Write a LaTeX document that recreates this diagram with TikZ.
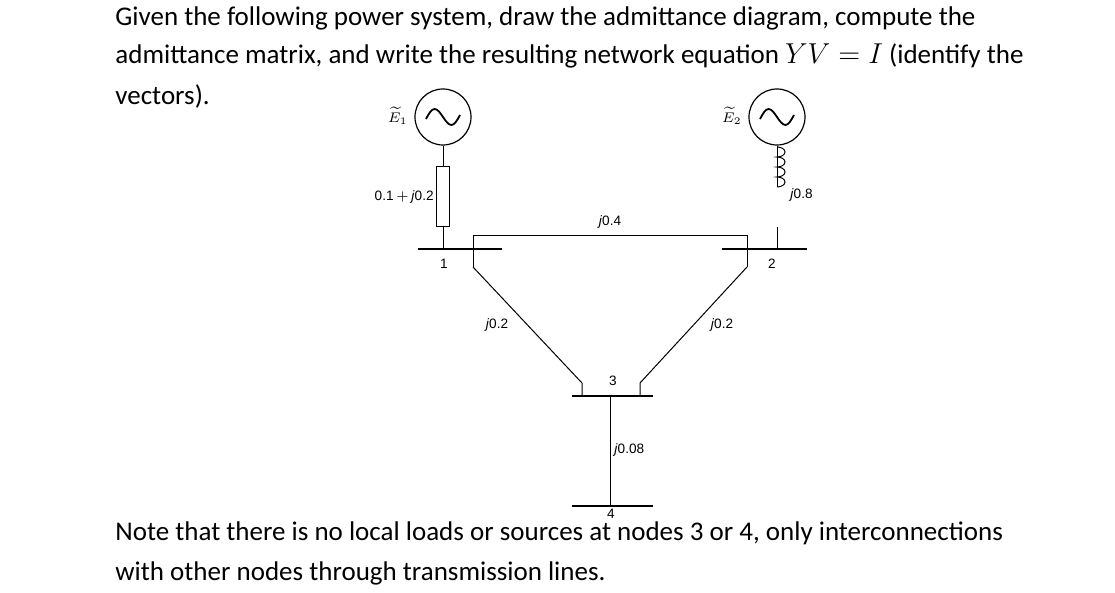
\documentclass[tikz,border=0pt]{standalone}
\usepackage{fontspec}
\setmainfont{Carlito}
\newfontfamily\lab{Liberation Sans}
\usetikzlibrary{calc}
\begin{document}
\begin{tikzpicture}[x=0.5pt,y=-0.5pt,
  txt/.style={anchor=west,inner sep=0,font=\fontsize{13.5}{16}\selectfont},
  lb/.style={inner sep=0,font=\lab\fontsize{6.8}{8}\selectfont},
  bus/.style={line width=0.9pt},
  ln/.style={line width=0.5pt},
  gen/.style={draw,circle,minimum size=28pt,inner sep=0,line width=0.6pt}]
\useasboundingbox (0,0) rectangle (1115,593);
\node[txt] (t1) at (115,18) {Given the following power system, draw the admittance diagram, compute the};
\node[txt] (t2) at (115,56) {admittance matrix, and write the resulting network equation $YV=I$ (identify the};
\node[txt] (t3) at (115,97) {vectors).};
% generators
\node[gen] (g1) at (443,117) {};
\node[gen] (g2) at (777,117) {};
\draw[line width=0.9pt] ($(g1)+(-17,2)$) sin ($(g1)+(-8.5,-8)$) cos ($(g1)+(0,0)$) sin ($(g1)+(8.5,8)$) cos ($(g1)+(17,-2)$);
\draw[line width=0.9pt] ($(g2)+(-17,2)$) sin ($(g2)+(-8.5,-8)$) cos ($(g2)+(0,0)$) sin ($(g2)+(8.5,8)$) cos ($(g2)+(17,-2)$);
\node[lb,anchor=east] (e1) at (408,116) {$\widetilde{E}_1$};
\node[lb,anchor=east] (e2) at (742,116) {$\widetilde{E}_2$};
% buses
\coordinate (b1l) at (418,249); \coordinate (b1r) at (502,249);
\coordinate (b2l) at (722,249); \coordinate (b2r) at (807,249);
\coordinate (b3l) at (572,396); \coordinate (b3r) at (653,396);
\coordinate (b4l) at (572,506); \coordinate (b4r) at (653,506);
\draw[bus] (b1l) -- (b1r); \draw[bus] (b2l) -- (b2r);
\draw[bus] (b3l) -- (b3r); \draw[bus] (b4l) -- (b4r);
\node[lb] (n1) at (444,264) {1};
\node[lb] (n2) at (772,264) {2};
\node[lb] (n3) at (613,381) {3};
\node[lb] (n4) at (611,514) {4};
% branch 1
\node[draw,line width=0.5pt,minimum width=6.5pt,minimum height=30pt,inner sep=0] (r1) at (443,197) {};
\draw[ln] (g1.south) -- (r1.north);
\draw[ln] (r1.south) -- (443,249);
\node[lb,anchor=east] (l1) at (434,197) {0.1$\,+\,$\textit{j}0.2};
% branch 2
\coordinate (i2t) at (777,187); \coordinate (i2b) at (777,227);
\draw[ln] (g2.south) -- (i2t);
\draw[ln] (i2t) \foreach \k in {0,...,3} {arc[start angle=90,end angle=-90,x radius=8,y radius=5]};
\draw[ln] (i2b) -- (777,249);
\node[lb,anchor=west] (l2) at (790,195) {\textit{j}0.8};
% line 1-2
\draw[ln] (473,267) -- (473,236) -- (747,236) -- (747,267);
\node[lb] (l12) at (610,222) {\textit{j}0.4};
% lines to 3
\draw[ln] (473,267) -- (582,383) -- (582,396);
\draw[ln] (747,267) -- (640,383) -- (640,396);
\node[lb] (l13) at (497,325) {\textit{j}0.2};
\node[lb] (l23) at (722,325) {\textit{j}0.2};
% line 3-4
\draw[ln] (610,396) -- (610,506);
\node[lb,anchor=west] (l34) at (614,450) {\textit{j}0.08};
\node[txt] (t4) at (115,533) {Note that there is no local loads or sources at nodes 3 or 4, only interconnections};
\node[txt] (t5) at (115,573) {with other nodes through transmission lines.};
\end{tikzpicture}
\end{document}
